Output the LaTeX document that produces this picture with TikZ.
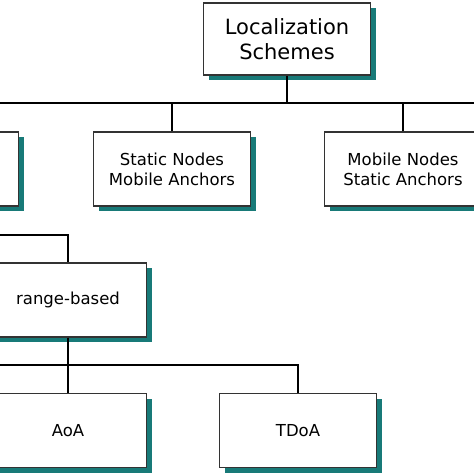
\documentclass[tikz,border=0pt]{standalone}
\usepackage{fontspec}
\setmainfont{DejaVu Sans}
\usetikzlibrary{shadows,positioning}
\definecolor{shadowteal}{RGB}{24,122,120}
\tikzset{
    scheme/.style={rectangle, draw=black!80, line width=1.2pt, fill=white,
        minimum width=157pt, minimum height=74pt, align=center,
        font=\fontsize{16.5}{20}\selectfont,
        drop shadow={shadow xshift=5pt, shadow yshift=-5pt, fill=shadowteal, opacity=1}},
    link/.style={draw, line width=2pt}
}

\begin{document}
\begin{tikzpicture}[x=1pt, y=-1pt]
    \useasboundingbox (0,0) rectangle (474,474);
    \clip (0,0) rectangle (474,474);

    % Nodes
    \node[scheme, minimum width=167pt, minimum height=72pt, font=\fontsize{21}{25}\selectfont] (root) at (287,39) {Localization\\Schemes};
    \node[scheme] (L) at (-60,169) {};
    \node[scheme] (snma) at (172,169) {Static Nodes\\Mobile Anchors};
    \node[scheme] (mnsa) at (403,169) {Mobile Nodes\\Static Anchors};
    \node[scheme] (rb) at (68,300) {range-based};
    \node[scheme] (aoa) at (68,430.5) {AoA};
    \node[scheme] (tdoa) at (298,430.5) {TDoA};

    \coordinate (topleft) at (-100,103);
    \coordinate (topright) at (560,103);
    \coordinate (lowleft) at (-100,365);

    % edges
    \draw[link] (topleft) -- (topright);
    \draw[link] (root.south) -- (root.south |- topleft);
    \foreach \n in {L,snma,mnsa}
        \draw[link] (\n.north) -- (\n.north |- topleft);
    \draw[link] (L.south) -- ++(0,28) -| (rb.north);
    \draw[link] (rb.south) -- (aoa.north);
    \draw[link] (lowleft) -| (tdoa.north);
\end{tikzpicture}
\end{document}
